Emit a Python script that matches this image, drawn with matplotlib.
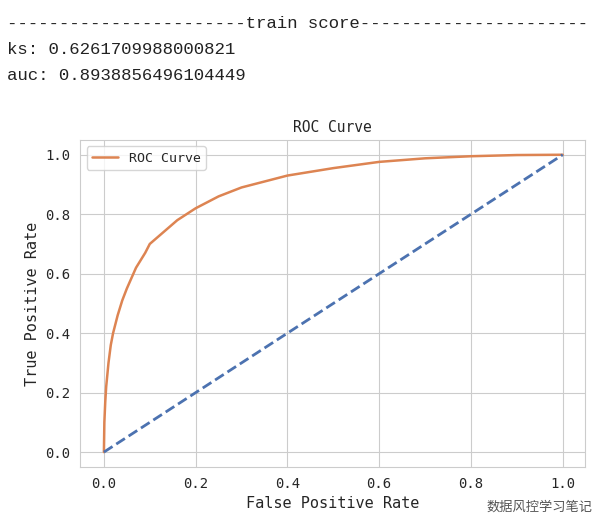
import matplotlib
matplotlib.use("Agg")
import matplotlib.pyplot as plt
import seaborn as sns

sns.set_style("whitegrid")
plt.rcParams['font.family'] = ['DejaVu Sans Mono', 'Noto Sans CJK SC']

fpr = [0, 0.001, 0.003, 0.005, 0.01, 0.015, 0.02, 0.03, 0.04, 0.05, 0.07, 0.09, 0.1, 0.13, 0.16, 0.2, 0.25, 0.3, 0.35, 0.4, 0.5, 0.6, 0.7, 0.8, 0.9, 1.0]
tpr = [0, 0.1, 0.17, 0.22, 0.3, 0.36, 0.4, 0.46, 0.51, 0.55, 0.62, 0.67, 0.7, 0.74, 0.78, 0.82, 0.86, 0.89, 0.91, 0.93, 0.955, 0.976, 0.988, 0.995, 0.999, 1.0]
ks_text = "ks: 0.6261709988000821"
auc_text = "auc: 0.8938856496104449"

fig = plt.figure(figsize=(6.11, 5.2), dpi=100)
mono = dict(family="Liberation Mono", fontsize=12.5, va="center", color="#222222")
fig.text(0.012, 0.955, "-" * 23 + "train score" + "-" * 22, **mono)
fig.text(0.012, 0.905, ks_text, **mono)
fig.text(0.012, 0.855, auc_text, **mono)

ax = fig.add_axes([0.131, 0.102, 0.826, 0.629])
ax.plot(fpr, tpr, color="#DD8452", lw=1.8, label="ROC Curve")
ax.plot([0, 1], [0, 1], color="#4C72B0", lw=2, ls="--")
ax.set_xlim(-0.052, 1.048)
ax.set_ylim(-0.05, 1.05)
ax.set_title("ROC Curve", fontsize=10.5)
ax.set_xlabel("False Positive Rate", fontsize=11)
ax.set_ylabel("True Positive Rate", fontsize=11)
ax.tick_params(labelsize=10)
ax.legend(loc="upper left", fontsize=9.5)
fig.text(0.97, 0.025, "数据风控学习笔记", fontsize=9.5, color="#555555", ha="right", va="center",
         family=["Noto Sans CJK SC"])
fig.savefig("out.png", dpi=100)
